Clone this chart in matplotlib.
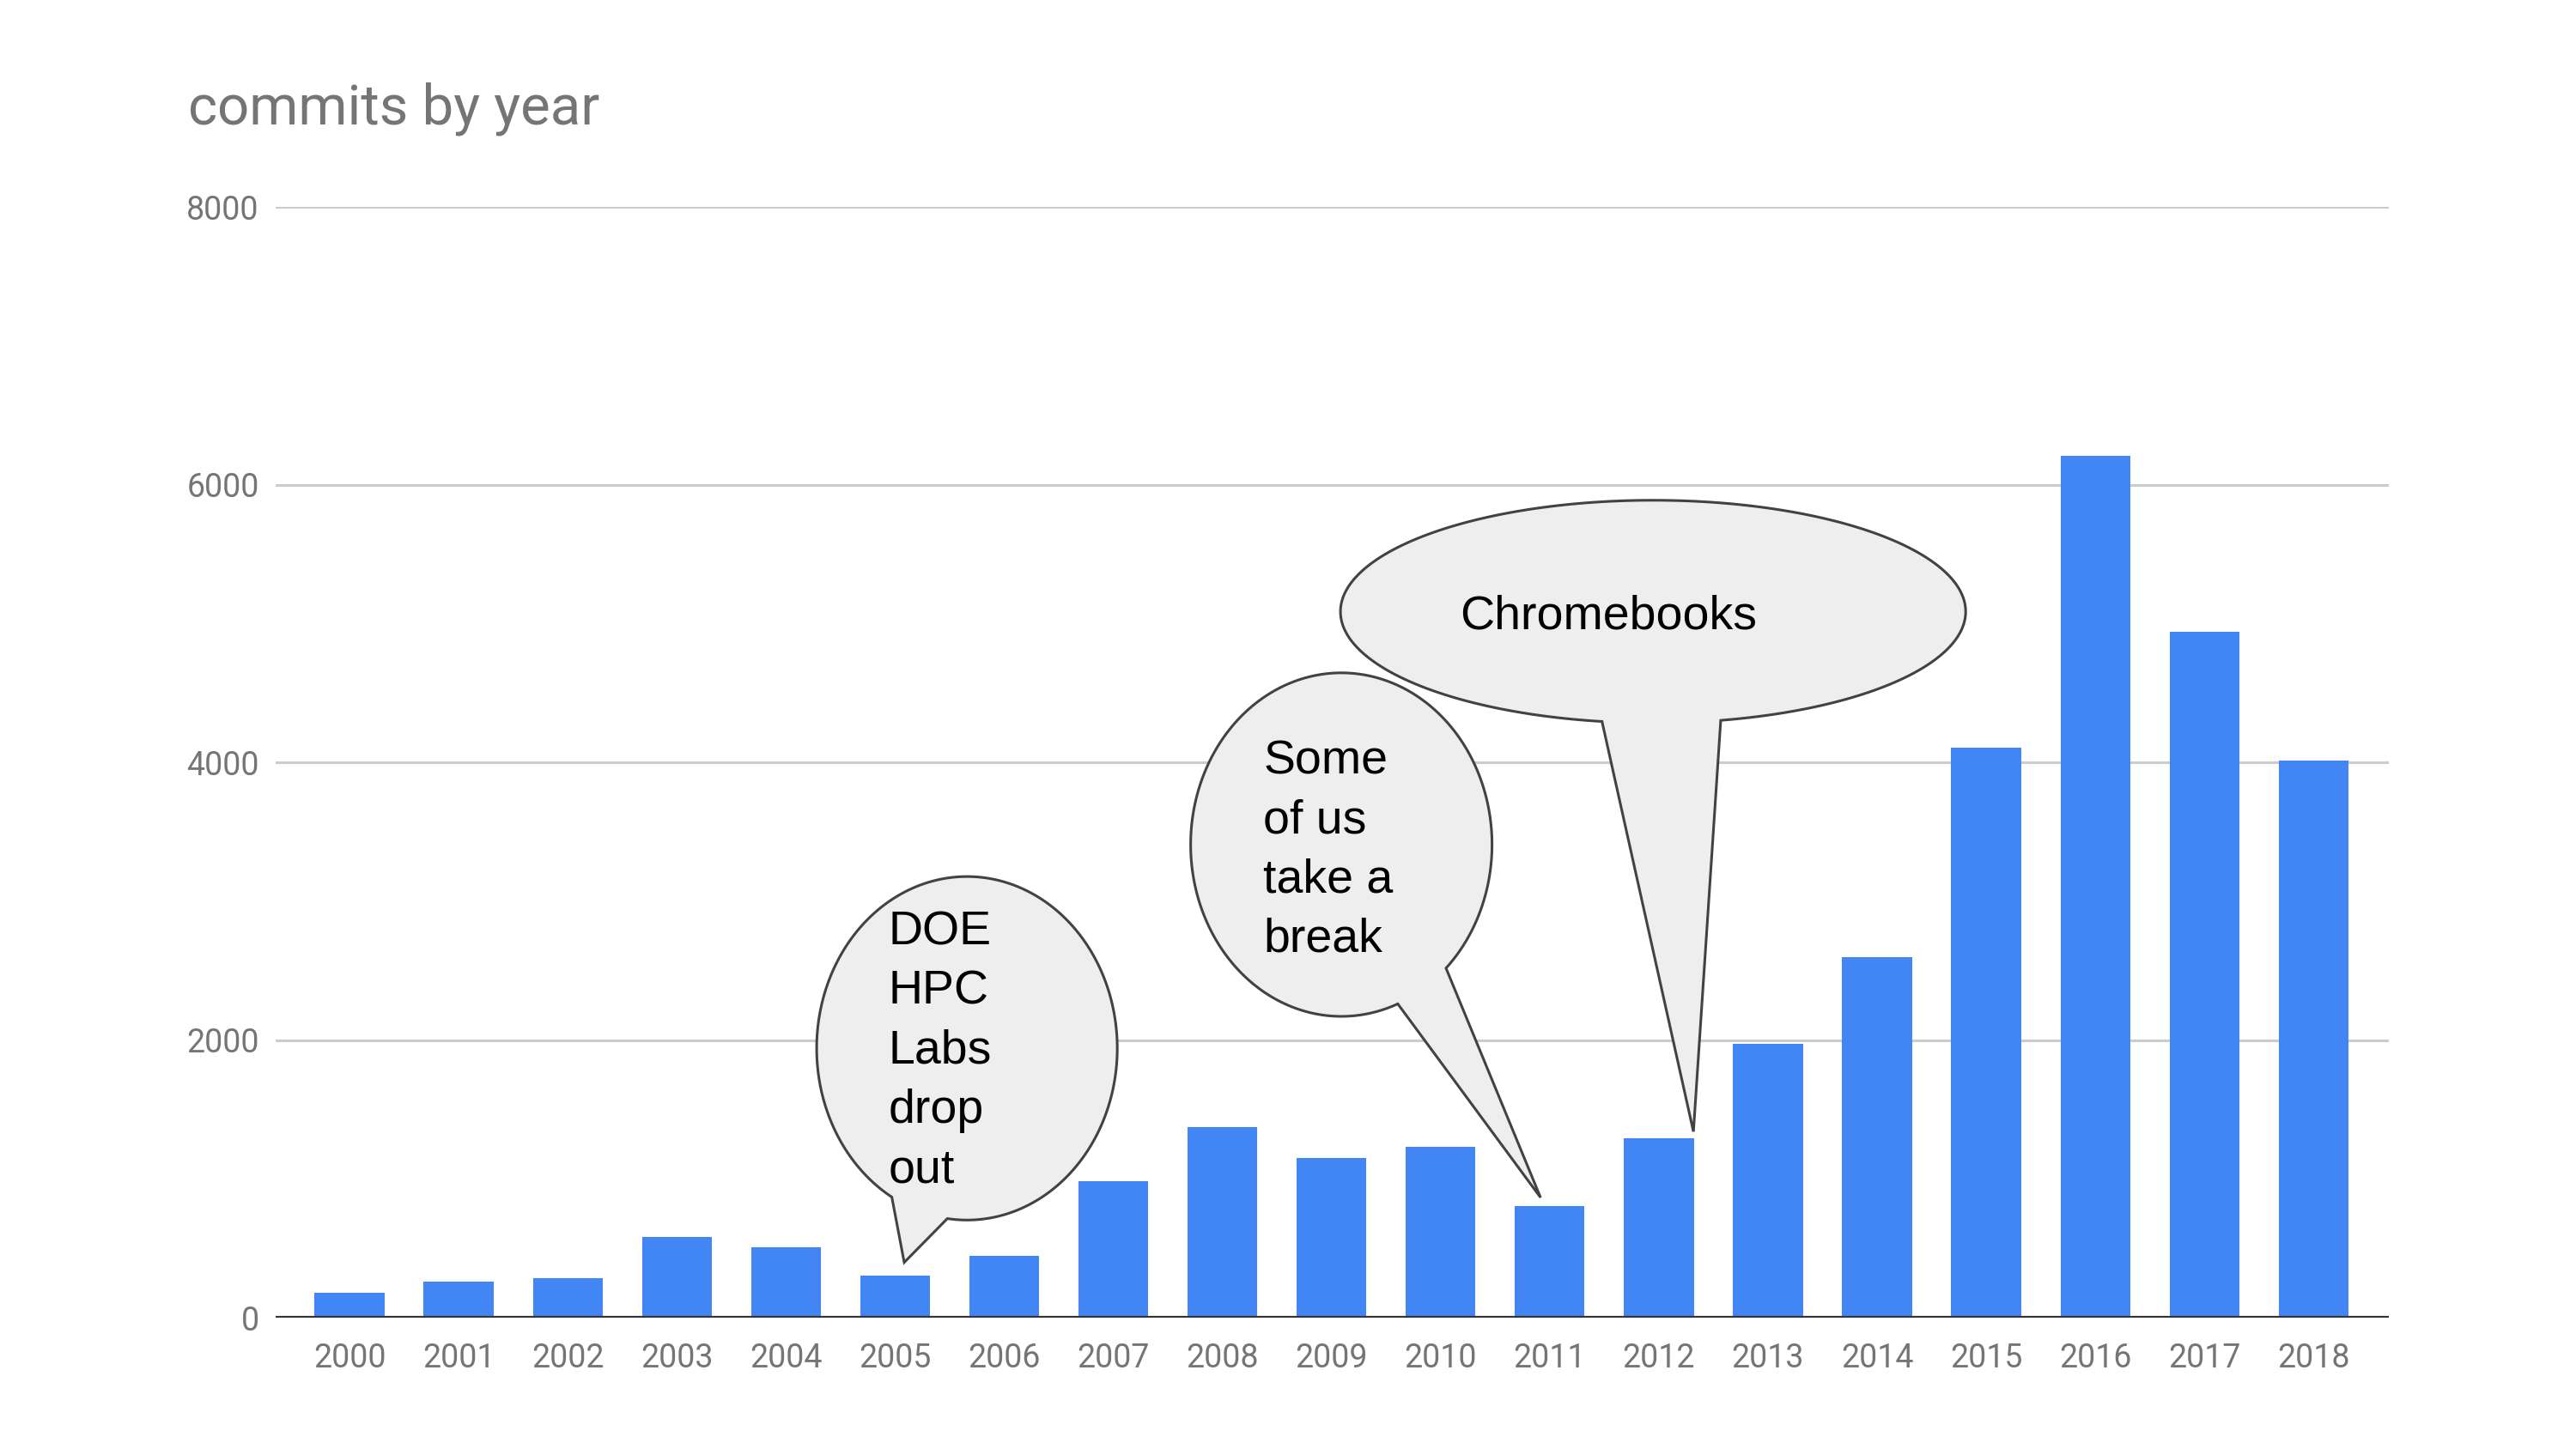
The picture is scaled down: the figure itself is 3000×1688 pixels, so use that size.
import numpy as np
import matplotlib.pyplot as plt
from matplotlib.patches import Polygon

# data
years = ["2000", "2001", "2002", "2003", "2004", "2005", "2006", "2007", "2008", "2009",
         "2010", "2011", "2012", "2013", "2014", "2015", "2016", "2017", "2018"]
commits = [180, 262, 283, 584, 506, 303, 444, 985, 1373, 1150,
           1232, 805, 1290, 1972, 2594, 4105, 6209, 4937, 4011]
y_ticks = [0, 2000, 4000, 6000, 8000]

callout_texts = ["DOE\nHPC\nLabs\ndrop\nout", "Some\nof us\ntake a\nbreak", "Chromebooks"]
callout_years = ["2005", "2011", "2012"]

GREY = "#757575"
BLUE = "#4285F4"


def bubble(ax, cx, cy, w, h, a1, a2, tip, text, tx, ty):
    # ellipse outline going the long way round, then out to the tail tip
    t = np.radians(np.linspace(a2, a1 + 360, 240))
    pts = np.column_stack([cx + w / 2 * np.cos(t), cy + h / 2 * np.sin(t)])
    pts = np.vstack([pts, tip])
    ax.add_patch(Polygon(pts, closed=True, fc="#eeeeee", ec="#424242", lw=1.1,
                         zorder=4, clip_on=False))
    ax.text(tx, ty, text, ha="left", va="top", fontsize=20, color="black",
            family="Liberation Sans", linespacing=1.43, zorder=5)


fig = plt.figure(figsize=(15, 8.44), dpi=200)
ax = fig.add_axes([321 / 3000, 1 - 1535 / 1688, (2782 - 321) / 3000, (1535 - 241) / 1688])

x = np.arange(len(years))
ax.bar(x, commits, width=0.64, color=BLUE, zorder=2)

ax.set_xlim(-0.677, 18.69)
ax.set_ylim(0, 8000)
ax.set_yticks(y_ticks)
ax.set_yticklabels([str(v) for v in y_ticks])
ax.set_xticks(x)
ax.set_xticklabels(years)
for spine in ax.spines.values():
    spine.set_visible(False)
ax.tick_params(axis="both", length=0, labelsize=13.5, labelcolor=GREY)
ax.tick_params(axis="x", pad=10.5)
ax.tick_params(axis="y", pad=7)
for lab in ax.get_xticklabels() + ax.get_yticklabels():
    lab.set_family("Roboto")
ax.grid(axis="y", color="#cccccc", lw=1.1, zorder=0)
ax.set_axisbelow(True)
ax.axhline(0, color="#333333", lw=1.5, zorder=3)

# callouts: tail tip placed just above the bar it points at
i0 = years.index(callout_years[0])
bubble(ax, 5.659, 1940, 2.755, 2474, 240, 262.5,
       (i0 + 0.084, commits[i0] + 95), callout_texts[0], 4.94, 2935)
i1 = years.index(callout_years[1])
bubble(ax, 9.09, 3407, 2.762, 2474, 292, 314,
       (i1 - 0.084, commits[i1] + 60), callout_texts[1], 8.374, 4165)
i2 = years.index(callout_years[2])
bubble(ax, 11.947, 5085, 5.73, 1604, 260.6, 282.5,
       (i2 + 0.317, commits[i2] + 50), callout_texts[2], 10.176, 5210)

fig.text(219 / 3000, 1 - 145 / 1688, "commits by year", ha="left", va="baseline",
         fontsize=23.5, color=GREY, family="Roboto")

fig.savefig("out.png", dpi=200)
